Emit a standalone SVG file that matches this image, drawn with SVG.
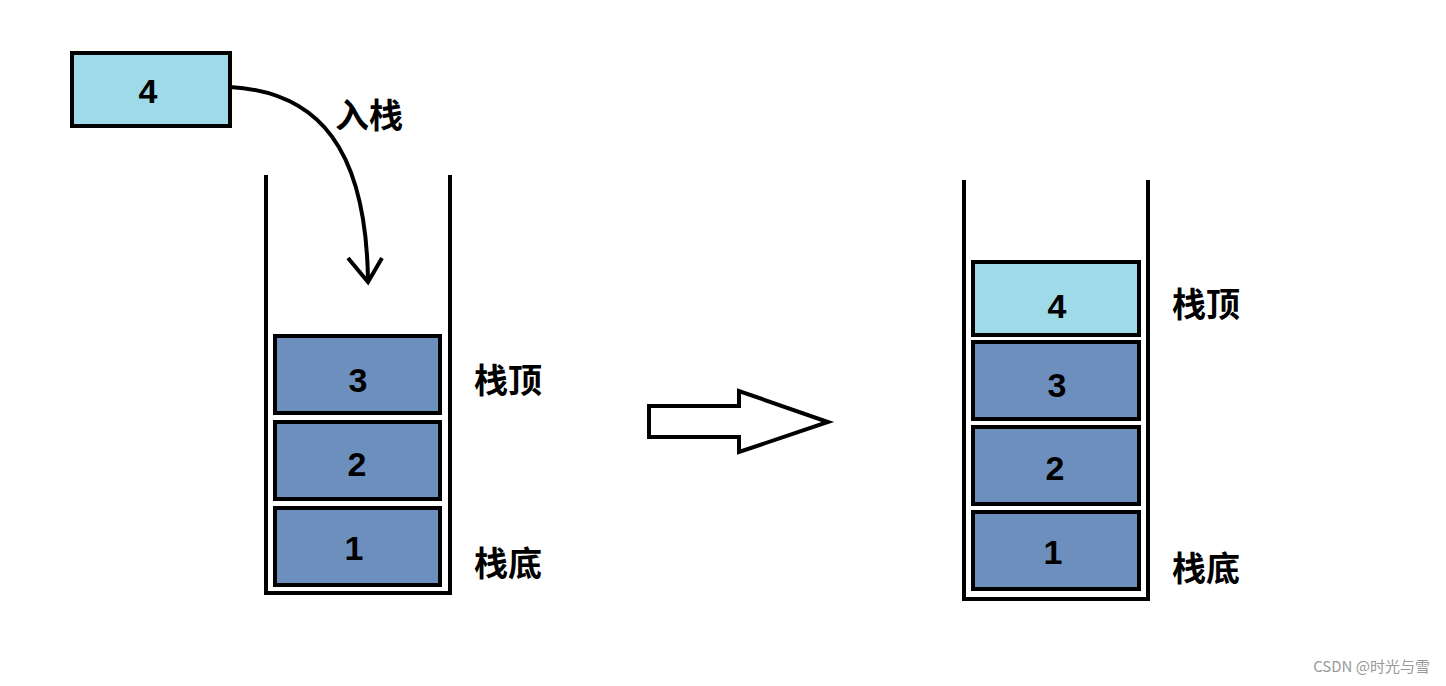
<svg xmlns="http://www.w3.org/2000/svg" width="1446" height="686" viewBox="0 0 1446 686">
<style>
.box{stroke:#000;stroke-width:4}
.dark{fill:#6d8fbd}
.light{fill:#9edae8}
.t{font-family:"Liberation Sans","Noto Sans CJK SC",sans-serif;font-weight:bold;font-size:34px;fill:#000}
.l{fill:none;stroke:#000;stroke-width:4}
</style>
<rect width="1446" height="686" fill="#fff"/>
<g id="new4"><rect class="box light" x="72" y="53" width="158" height="73"/><text class="t" x="148" y="103" text-anchor="middle">4</text></g>
<g id="stack1"><path class="l" d="M266 175V593H450V175"/></g>
<g id="s1n3"><rect class="box dark" x="275" y="336" width="165" height="77"/><text class="t" x="358" y="392" text-anchor="middle">3</text></g>
<g id="s1n2"><rect class="box dark" x="275" y="422" width="165" height="77"/><text class="t" x="357" y="476" text-anchor="middle">2</text></g>
<g id="s1n1"><rect class="box dark" x="275" y="508" width="165" height="77"/><text class="t" x="354" y="560" text-anchor="middle">1</text></g>
<g id="stack2"><path class="l" d="M964 180V599H1148V180"/></g>
<g id="s2n4"><rect class="box light" x="973" y="262" width="166" height="73"/><text class="t" x="1057" y="318" text-anchor="middle">4</text></g>
<g id="s2n3"><rect class="box dark" x="973" y="342" width="166" height="77"/><text class="t" x="1057" y="397" text-anchor="middle">3</text></g>
<g id="s2n2"><rect class="box dark" x="973" y="427" width="166" height="77"/><text class="t" x="1055" y="480" text-anchor="middle">2</text></g>
<g id="s2n1"><rect class="box dark" x="973" y="512" width="166" height="77"/><text class="t" x="1053" y="564" text-anchor="middle">1</text></g>
<g id="labels">
<text class="t" x="335" y="128">入栈</text>
<text class="t" x="474" y="393">栈顶</text>
<text class="t" x="474" y="576">栈底</text>
<text class="t" x="1172" y="317">栈顶</text>
<text class="t" x="1172" y="581">栈底</text>
<text x="1430" y="672" text-anchor="end" font-family="'Noto Sans CJK SC',sans-serif" font-size="15" fill="#999">CSDN @时光与雪</text>
</g>
<g id="connectors">
<path class="l" d="M230 87C320 92 366 150 368 280"/>
<path class="l" d="M348 258L368 282L382 258"/>
<path d="M649 406H739V391L828 422L739 452V437H649Z" fill="#fff" stroke="#000" stroke-width="4"/>
</g>
</svg>
